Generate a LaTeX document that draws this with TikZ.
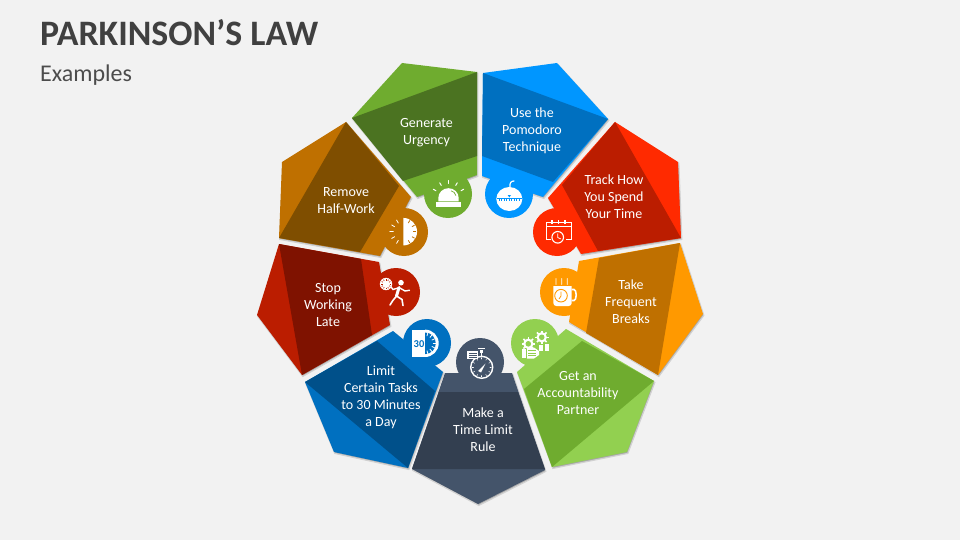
\documentclass[tikz,border=0pt]{standalone}
\usepackage{fontspec}
\setmainfont{Carlito}
\usetikzlibrary{calc}
\definecolor{bgc}{HTML}{F2F2F2}
\definecolor{gL}{HTML}{6FAC2F}\definecolor{gD}{HTML}{4B7321}
\definecolor{bL}{HTML}{0096FF}\definecolor{bD}{HTML}{0070C0}
\definecolor{rL}{HTML}{FF2A00}\definecolor{rD}{HTML}{BB1D00}
\definecolor{oL}{HTML}{FF9900}\definecolor{oD}{HTML}{BF7000}
\definecolor{lL}{HTML}{92D050}\definecolor{lD}{HTML}{6FAC2F}
\definecolor{sL}{HTML}{44546A}\definecolor{sD}{HTML}{333F50}
\definecolor{mL}{HTML}{0070C0}\definecolor{mD}{HTML}{00508A}
\definecolor{dL}{HTML}{BB1D00}\definecolor{dD}{HTML}{7F1200}
\definecolor{wL}{HTML}{BF7000}\definecolor{wD}{HTML}{7F4E00}
\tikzset{
  lbl/.style={text=white,font=\fontsize{14}{17}\selectfont,align=center,inner sep=0pt},
  shadowed/.style={fill=black!35,draw=black!18,line width=1.2pt},
  ico/.style={fill=white,draw=none},
  icoline/.style={draw=white,line width=1.1pt,line cap=round},
}
\newcommand{\petal}[5]{% light, dark, outline, dark region, circle centre
  \fill[shadowed,shift={(0.8,1.4)}] #3 -- cycle;
  \fill[#1] #3 -- cycle;
  \fill[#1] #5 circle (24);
  \fill[#2] #4 -- cycle;
}
\begin{document}
\begin{tikzpicture}[x=1pt,y=-1pt]
\useasboundingbox (0,0) rectangle (960,540);
\fill[bgc] (0,0) rectangle (960,540);
\node[anchor=base west,inner sep=0pt,text=black!75,font=\fontsize{35.8}{36}\selectfont\bfseries] (title) at (40,46) {PARKINSON’S LAW};
\node[anchor=base west,inner sep=0pt,text=black!70,font=\fontsize{24}{24}\selectfont] (sub) at (40,81.6) {Examples};
% petals
\petal{wL}{wD}{(346,122)--(411,197)--(380,256)--(279,238)--(282,162)}{(346,122)--(399,186)--(360,252)--(279,238)}{(404,232)}
\petal{gL}{gD}{(402,63)--(477,72)--(477,175)--(417,197)--(352,118)}{(352,118)--(477,72)--(477,156)--(403,181)}{(448,194)}
\petal{bL}{bD}{(557,63)--(483,73)--(482,176)--(543,197)--(608,119)}{(483,73)--(608,119)--(553,182)--(482,156)}{(509,194)}
\petal{rL}{rD}{(615,122)--(678,162)--(681,238)--(581,254)--(548,198)}{(615,122)--(681,238)--(598,251)--(562,185)}{(557,232)}
\petal{oL}{oD}{(680,243)--(703,314)--(658,375)--(569,322)--(579,261)}{(599,258)--(680,243)--(658,375)--(586,333)}{(564,292)}
\petal{lL}{lD}{(566,329)--(654,381)--(627,452)--(552,467)--(517,372)}{(582,341)--(654,381)--(552,467)--(524,389)}{(535,343)}
\petal{dL}{dD}{(279,244)--(379,262)--(390,325)--(302,375)--(257,315)}{(279,244)--(361,259)--(372,335)--(302,375)}{(396,292)}
\petal{mL}{mD}{(393,331)--(443,372)--(408,468)--(334,452)--(305,382)}{(305,382)--(377,341)--(435,391)--(408,468)}{(427,343)}
\petal{sL}{sD}{(445,373)--(512,373)--(545,470)--(478,504)--(412,469)}{(439,392)--(518,392)--(545,469)--(412,469)}{(480,362)}
% labels
\node[lbl] (t1) at (426.5,133) {Generate\\Urgency};
\node[lbl] (t2) at (532,131) {Use the\\Pomodoro\\Technique};
\node[lbl] (t3) at (614,197) {Track How\\You Spend\\Your Time};
\node[lbl] (t4) at (631,302) {Take\\Frequent\\Breaks};
\node[lbl] (t5) at (578,393) {Get an\\Accountability\\Partner};
\node[lbl] (t6) at (483,430) {Make a\\Time Limit\\Rule};
\node[lbl] (t7) at (381,397) {Limit\\Certain Tasks\\to 30 Minutes\\a Day};
\node[lbl] (t8) at (328,305) {Stop\\Working\\Late};
\node[lbl] (t9) at (346,200.5) {Remove\\Half-Work};
% bell icon
\fill[ico] (435.7,202.3) rectangle (460.7,206.7);
\fill[ico] (438.3,201.3) -- (438.3,198) arc (180:360:10.2 and 9.8) -- (458.7,201.3) -- cycle;
\draw[draw=gL,line width=0.7pt] (451,190.8) arc (-80:-10:6);
\foreach \a in {-60,-30,0,30,60}{\draw[icoline,line width=1pt] ($(448.5,198)+(\a-90:14.5)$) -- ($(448.5,198)+(\a-90:17.5)$);}
% half clock
\fill[ico] (403.3,245.45) arc (90:-90:13.75) -- cycle;
\foreach \a in {-60,-30,0,30,60}{\draw[draw=wL,line width=0.8pt] ($(403.3,231.7)+(\a:10)$) -- ($(403.3,231.7)+(\a:13)$);}
\foreach \a in {120,150,180,210,240}{\draw[icoline,line width=0.8pt] ($(403.3,231.7)+(\a:10)$) -- ($(403.3,231.7)+(\a:13.5)$);}
% tomato timer
\fill[ico] (509.3,199) ellipse (13 and 12);
\draw[icoline,line width=1.2pt] (510,187) .. controls (509.5,183) and (511,181) .. (514,181);
\draw[draw=bL,line width=0.7pt] (497,198.5) -- (522,198.5);
\foreach \x in {499,501.5,...,520}{\draw[draw=bL,line width=0.4pt] (\x,198.5) -- (\x,201);}
\fill[bL] (507.7,195) -- (511,195) -- (509.3,197.5) -- cycle;
% calendar
\draw[icoline,line width=1.2pt,line cap=butt] (551,239.7) -- (546.3,239.7) -- (546.3,222.5) -- (571.3,222.5) -- (571.3,239.7) -- (566,239.7);
\draw[icoline,line width=1.2pt,line cap=butt] (546.3,226.5) -- (571.3,226.5);
\foreach \x in {552,558.5,565}{\draw[icoline,line width=1.3pt,line cap=butt] (\x,220) -- (\x,224);}
\draw[draw=white,fill=rL,line width=1.1pt] (557.7,237.3) circle (5.8);
\draw[icoline,line width=0.8pt] (557.7,233.8) -- (557.7,237.5) -- (560.5,238.8);
% coffee
\fill[ico] (553.3,286) -- (571.7,286) -- (571.7,303) arc (0:90:3) -- (556.3,306) arc (90:180:3) -- cycle;
\draw[draw=white,line width=1.6pt] (571.7,289.5) -- (574,289.5) arc (-90:90:2.2 and 5.5) -- (571.7,300.5);
\draw[draw=oL,line width=0.9pt] (561,295.7) circle (6.3);
\draw[draw=oL,line width=0.8pt] (561,291.5) -- (561,296) -- (559,299);
\foreach \x in {556,561.7,567.3}{\draw[icoline,line width=0.8pt] (\x,278.5) .. controls (\x-1.5,280.5) and (\x+1.5,282) .. (\x,284.5);}
% gears + hand
\foreach \c/\r in {{(528.3,343.8)}/5.2,{(541.7,337.3)}/5.2}{
  \fill[ico] \c circle (\r);
  \foreach \a in {0,45,...,315}{\draw[draw=white,line width=1.6pt] \c -- ++(\a:\r+1.6);}
  \fill[lL] \c circle (\r-2.4);
}
\fill[ico] (522,348.5) rectangle (526,358);
\fill[ico] (527,347.5) -- (534,347.5) -- (539,351) -- (539,355) -- (534,358.5) -- (527,358.5) -- cycle;
\fill[ico] (539,345) rectangle (543,350.5);
\fill[ico] (545,344) rectangle (549,351);
\foreach \y in {350.5,353,355.5}{\draw[draw=lL,line width=0.4pt] (528,\y) -- (536,\y);}
% stopwatch
\draw[draw=white,fill=sL,line width=1.4pt] (481.7,367.3) circle (11);
\fill[ico] (480,350) rectangle (483.4,353);
\fill[ico] (478,347.5) rectangle (485.4,349);
\draw[draw=white,line width=1.4pt] (481.7,352) -- (481.7,356);
\fill[ico] (467.3,350.7) rectangle (478.3,359.3);
\foreach \y in {353,355,357}{\draw[draw=sL,line width=0.5pt] (469,\y) -- (476.5,\y);}
\fill[ico] (478,371) -- (485.5,363.5) -- (481,372.5) -- cycle;
\foreach \a in {0,30,...,330}{\draw[icoline,line width=0.5pt] ($(481.7,367.3)+(\a:8.2)$) -- ($(481.7,367.3)+(\a:9.6)$);}
% 30 icon
\fill[ico] (412.3,330) rectangle (425,357.3);
\fill[ico] (425,329.6) arc (-90:90:13.7);
\fill[mL] (425,332.5) arc (-90:90:10.8);
\foreach \a in {-75,-50,-25,0,25,50,75}{\draw[draw=white,line width=0.8pt] ($(425,343.3)+(\a:7.5)$) -- ($(425,343.3)+(\a:11)$);}
\node[inner sep=0pt,text=mL,font=\fontsize{10.5}{10.5}\selectfont\bfseries] (thirty) at (419,344) {30};
% runner
\draw[draw=white,fill=white,line width=0.4pt] (386,284) circle (6);
\foreach \a in {0,30,...,330}{\draw[draw=dL,line width=0.6pt] ($(386,284)+(\a:3.5)$) -- ($(386,284)+(\a:5)$);}
\fill[ico] (401,282.7) circle (2.8);
\draw[icoline,line width=3pt] (399,287.5) -- (396.5,296);
\draw[icoline,line width=1.4pt] (399,287.5) -- (405,291) -- (409.5,290.3);
\draw[icoline,line width=1.4pt] (398,288) -- (393,289.5) -- (391,287);
\draw[icoline,line width=1.6pt] (396.5,296) -- (392.5,301) -- (390,305);
\draw[icoline,line width=1.6pt] (396.5,296) -- (402,299.5) -- (403,305.5);
\end{tikzpicture}
\end{document}
